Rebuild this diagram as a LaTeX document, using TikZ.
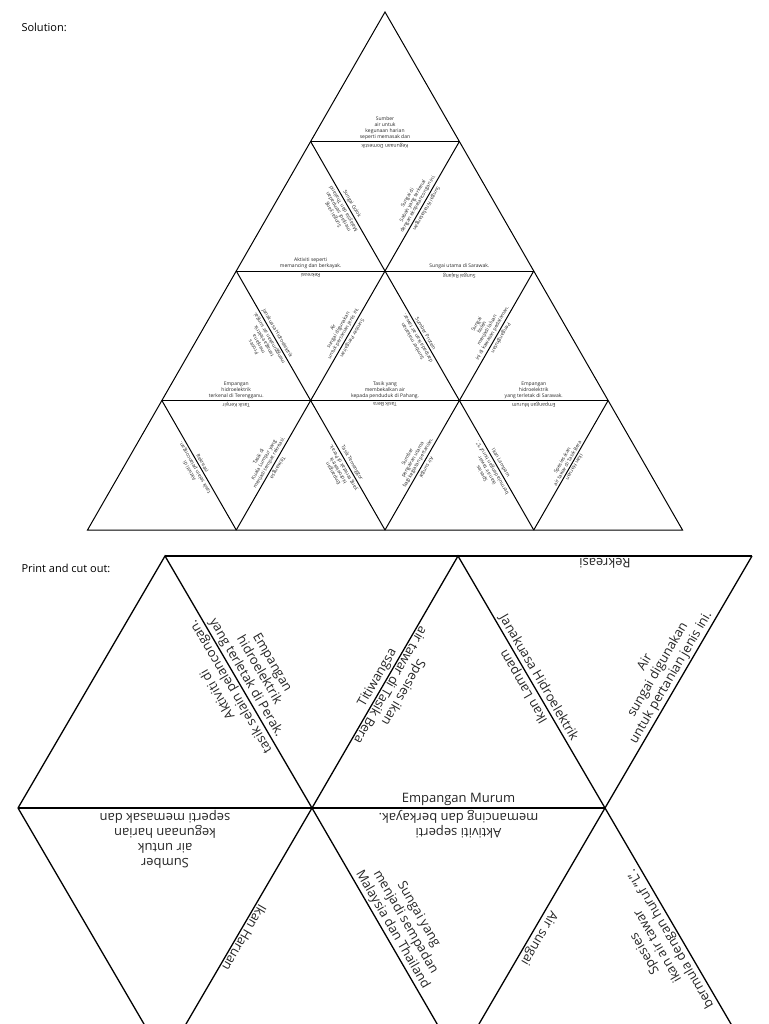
\documentclass[tikz,border=0pt]{standalone}
\usepackage{fontspec}
\setmainfont{Open Sans}
\tikzset{
  piece/.style={draw=black, line width=1.3pt, line join=miter},
  edge label/.style={midway, sloped, above, allow upside down, align=center,
    inner sep=2pt, text=black!85},
  small/.style={font=\fontsize{5}{6}\selectfont},
  large/.style={font=\fontsize{13}{15}\selectfont},
}
% text along the edge from #3 to #4, inside on its left
\newcommand\edgetxt[5][small]{\path (#3) -- (#4) node[edge label,#1] (#2) {#5};}
\begin{document}
\begin{tikzpicture}[x=1pt,y=1pt]
\useasboundingbox[fill=white] (0,-1024) rectangle (768,0);
\clip (0,-1024) rectangle (768,0);
\node[anchor=west, font=\fontsize{11}{13}\selectfont] (sol) at (18,-27) {Solution:};
\node[anchor=west, font=\fontsize{11}{13}\selectfont] (cut) at (18,-568) {Print and cut out:};
% Solution grid: point r-i
\foreach \r in {0,...,4}
  \foreach \i in {0,...,\r}
    \coordinate (p\r\i) at ({385+(\i-\r/2)*148.75},{-12-\r*129.5});
\draw[line width=1pt] (p00) -- (p40) -- (p44) -- cycle;
\foreach \r in {1,2,3}
  \draw[line width=1pt] (p\r0) -- (p\r\r);
\draw[line width=1pt] (p11) -- (p41) (p22) -- (p42) (p33) -- (p43);
\draw[line width=1pt] (p10) -- (p43) (p20) -- (p42) (p30) -- (p41);
% Row 1
\edgetxt{s1}{p10}{p11}{Sumber\\air untuk\\kegunaan harian\\seperti memasak dan}
\edgetxt{s2}{p11}{p10}{Kegunaan Domestik}
\edgetxt{s3}{p10}{p21}{Sungai Golok}
\edgetxt{s4}{p21}{p11}{Sungai di\\Sabah yang terkenal\\dengan ekopelancongan ini.}
\edgetxt{s5}{p21}{p10}{Sungai yang\\menjadi sempadan\\Malaysia dan Thailand}
\edgetxt{s6}{p20}{p21}{Aktiviti seperti\\memancing dan berkayak.}
\edgetxt{s7}{p11}{p21}{Sungai Kinabatangan}
\edgetxt{s8}{p21}{p22}{Sungai utama di Sarawak.}
% Row 2
\edgetxt{s9}{p31}{p20}{Proses\\menjana\\tenaga elektrik\\menggunakan air sungai.}
\edgetxt{s10}{p30}{p31}{Empangan\\hidroelektrik\\terkenal di Terengganu.}
\edgetxt{s11}{p21}{p20}{Rekreasi}
\edgetxt{s12}{p20}{p31}{Janakuasa Hidroelektrik}
\edgetxt{s13}{p31}{p21}{Air\\sungai digunakan\\untuk pertanian jenis ini.}
\edgetxt{s14}{p21}{p31}{Sumber Pengairan}
\edgetxt{s15}{p32}{p21}{Sumber makanan\\daripada ikan air tawar.}
\edgetxt{s16}{p31}{p32}{Tasik yang\\membekalkan air\\kepada penduduk di Pahang.}
\edgetxt{s17}{p22}{p21}{Sungai Rajang}
\edgetxt{s18}{p21}{p32}{Sumber Protein}
\edgetxt{s19}{p32}{p22}{Sungai\\boleh\\menjadi laluan\\ini di kawasan pedalaman.}
\edgetxt{s20}{p22}{p32}{Pengangkutan}
\edgetxt{s21}{p32}{p33}{Empangan\\hidroelektrik\\yang terletak di Sarawak.}
% Row 3
\edgetxt{s22}{p41}{p30}{Aktiviti di\\tasik selain pelancongan.}
\edgetxt{s23}{p31}{p30}{Tasik Kenyir}
\edgetxt{s24}{p30}{p41}{Rekreasi}
\edgetxt{s25}{p41}{p31}{Tasik di\\Kuala Lumpur yang\\menjadi tempat rekreasi.}
\edgetxt{s26}{p31}{p41}{Titiwangsa}
\edgetxt{s27}{p42}{p31}{Empangan\\hidroelektrik\\yang terletak di Perak.}
\edgetxt{s28}{p32}{p31}{Tasik Bera}
\edgetxt{s29}{p31}{p42}{Tasik Temenggor}
\edgetxt{s30}{p42}{p32}{Sumber\\pengairan utama\\bagi kegiatan pertanian.}
\edgetxt{s31}{p32}{p42}{Air sungai}
\edgetxt{s32}{p43}{p32}{Spesies\\ikan air tawar\\bermula dengan huruf ``L''.}
\edgetxt{s33}{p33}{p32}{Empangan Murum}
\edgetxt{s34}{p32}{p43}{Ikan Lampam}
\edgetxt{s35}{p43}{p33}{Spesies ikan\\air tawar di Tasik Bera}
\edgetxt{s36}{p33}{p43}{Ikan Haruan}
% Cut-out pieces
\coordinate (a0) at (165,-556); \coordinate (a1) at (458,-556); \coordinate (a2) at (752,-556);
\coordinate (b0) at (18,-808);  \coordinate (b1) at (312,-808); \coordinate (b2) at (605,-808);
\coordinate (c0) at (165,-1060); \coordinate (c1) at (458,-1060); \coordinate (c2) at (752,-1060);
\draw[piece] (a0) -- (a2) (b0) -- (b2);
\draw[piece] (b0) -- (a0) -- (b1) -- (a1) -- (b2) -- (a2);
\draw[piece] (b0) -- (c0) -- (b1) -- (c1) -- (b2) -- (c2);
\edgetxt[large]{t1}{b1}{a0}{Aktiviti di\\tasik selain pelancongan.}
\edgetxt[large]{t2}{a0}{b1}{Empangan\\hidroelektrik\\yang terletak di Perak.}
\edgetxt[large]{t3}{b1}{a1}{Titiwangsa}
\edgetxt[large]{t4}{a1}{b1}{Spesies ikan\\air tawar di Tasik Bera}
\edgetxt[large]{t5}{b1}{b2}{Empangan Murum}
\edgetxt[large]{t6}{b2}{a1}{Ikan Lampam}
\edgetxt[large]{t7}{a1}{b2}{Janakuasa Hidroelektrik}
\edgetxt[large]{t8}{b2}{a2}{Air\\sungai digunakan\\untuk pertanian jenis ini.}
\edgetxt[large]{t9}{a2}{a1}{Rekreasi}
\edgetxt[large]{t10}{b1}{b0}{Sumber\\air untuk\\kegunaan harian\\seperti memasak dan}
\edgetxt[large]{t11}{b1}{c0}{Ikan Haruan}
\edgetxt[large]{t12}{b2}{b1}{Aktiviti seperti\\memancing dan berkayak.}
\edgetxt[large]{t13}{b1}{c1}{Sungai yang\\menjadi sempadan\\Malaysia dan Thailand}
\edgetxt[large]{t14}{b2}{c1}{Air sungai}
\edgetxt[large]{t15}{c2}{b2}{Spesies\\ikan air tawar\\bermula dengan huruf ``L''.}
\end{tikzpicture}
\end{document}
